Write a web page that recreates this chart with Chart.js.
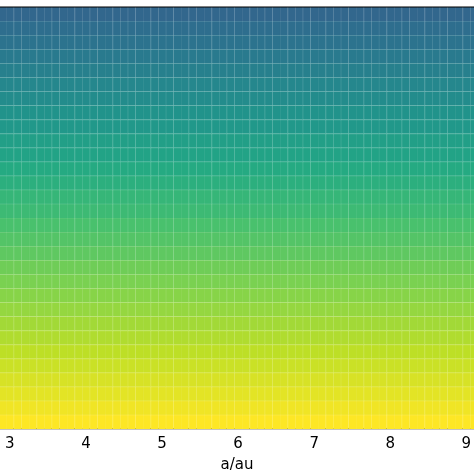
<!DOCTYPE html>
<html>
<head>
<meta charset="utf-8">
<script src="https://cdn.jsdelivr.net/npm/chart.js@4"></script>
<style>
  html, body { margin: 0; padding: 0; background: #fff; }
  #wrap { width: 474px; height: 474px; }
</style>
</head>
<body>
<div id="wrap"><canvas id="chartMap"></canvas></div>
<script>
// Column centres (a/au)
const aValues = [2.9, 3.0, 3.1, 3.2, 3.3, 3.4, 3.5, 3.6, 3.7, 3.8, 3.9, 4.0, 4.1, 4.2, 4.3, 4.4, 4.5, 4.6, 4.7, 4.8, 4.9,
    5.0, 5.1, 5.2, 5.3, 5.4, 5.5, 5.6, 5.7, 5.8, 5.9, 6.0, 6.1, 6.2, 6.3, 6.4, 6.5, 6.6, 6.7, 6.8, 6.9,
    7.0, 7.1, 7.2, 7.3, 7.4, 7.5, 7.6, 7.7, 7.8, 7.9, 8.0, 8.1, 8.2, 8.3, 8.4, 8.5, 8.6, 8.7, 8.8, 8.9,
    9.0, 9.1];
// Colour level of each row, bottom row first (0..1 on viridis)
const rowLevels = [1.00, 0.98, 0.96, 0.94, 0.92, 0.90, 0.88, 0.86, 0.84, 0.82, 0.80, 0.78, 0.75, 0.73, 0.71,
    0.68, 0.66, 0.63, 0.61, 0.58, 0.56, 0.53, 0.51, 0.48, 0.46, 0.43, 0.41, 0.38, 0.36, 0.33];
const xTicks = [3, 4, 5, 6, 7, 8, 9];

const viridisStops = [
    [0.0, [68, 1, 84]], [0.1, [72, 36, 117]], [0.2, [65, 68, 135]], [0.3, [53, 95, 141]],
    [0.4, [42, 120, 142]], [0.5, [33, 145, 140]], [0.6, [34, 168, 132]], [0.7, [68, 191, 112]],
    [0.8, [122, 209, 81]], [0.9, [189, 223, 38]], [1.0, [253, 231, 37]]
];

function viridis(t) {
    for (let i = 1; i < viridisStops.length; i++) {
        if (t <= viridisStops[i][0]) {
            const [t0, c0] = viridisStops[i - 1];
            const [t1, c1] = viridisStops[i];
            const f = (t - t0) / (t1 - t0);
            const c = c0.map((v, k) => Math.round(v + (c1[k] - v) * f));
            return `rgb(${c[0]},${c[1]},${c[2]})`;
        }
    }
    return 'rgb(253,231,37)';
}

const datasets = rowLevels.map((lvl, r) => ({
    data: aValues.map(a => ({ x: a, y: [r, r + 1] })),
    backgroundColor: viridis(lvl),
    borderColor: viridis(lvl),
    borderWidth: 0,
    borderSkipped: false,
    grouped: false,
    barPercentage: 1.02,
    categoryPercentage: 1
}));

// faint cell lines like the rendered mesh + top frame line
const frame = {
    id: 'frame',
    afterDatasetsDraw(chart) {
        const { ctx, chartArea: a, scales } = chart;
        ctx.save();
        ctx.strokeStyle = 'rgba(255,255,255,0.06)';
        ctx.lineWidth = 1;
        aValues.forEach(v => {
            const px = Math.round(scales.x.getPixelForValue(v - 0.05)) + 0.5;
            ctx.beginPath(); ctx.moveTo(px, a.top); ctx.lineTo(px, a.bottom); ctx.stroke();
        });
        rowLevels.forEach((_, r) => {
            const py = Math.round(scales.y.getPixelForValue(r)) + 0.5;
            ctx.beginPath(); ctx.moveTo(a.left, py); ctx.lineTo(a.right, py); ctx.stroke();
        });
        ctx.strokeStyle = '#000';
        ctx.lineWidth = 1.2;
        ctx.beginPath();
        ctx.moveTo(a.left, a.top);
        ctx.lineTo(a.right, a.top);
        ctx.stroke();
        ctx.restore();
    }
};

new Chart(document.getElementById('chartMap'), {
    type: 'bar',
    data: { datasets: datasets },
    options: {
        responsive: true,
        maintainAspectRatio: false,
        animation: false,
        layout: { padding: { top: 7, left: 0, right: 0, bottom: 0 } },
        plugins: { legend: { display: false }, tooltip: { enabled: false } },
        scales: {
            x: {
                type: 'linear',
                offset: false,
                min: 2.87,
                max: 9.1,
                afterBuildTicks: axis => { axis.ticks = xTicks.map(v => ({ value: v })); },
                ticks: { color: '#000', font: { family: 'DejaVu Sans', size: 15 }, padding: 1 },
                grid: { display: false, drawTicks: true, tickLength: 5, tickColor: '#000' },
                border: { color: '#000', width: 1.2 },
                title: { display: true, text: 'a/au', color: '#000', font: { family: 'DejaVu Sans', size: 15 }, padding: { top: 2, bottom: 0 } }
            },
            y: {
                display: false,
                offset: false,
                min: 0,
                max: rowLevels.length
            }
        }
    },
    plugins: [frame]
});
</script>
</body>
</html>
